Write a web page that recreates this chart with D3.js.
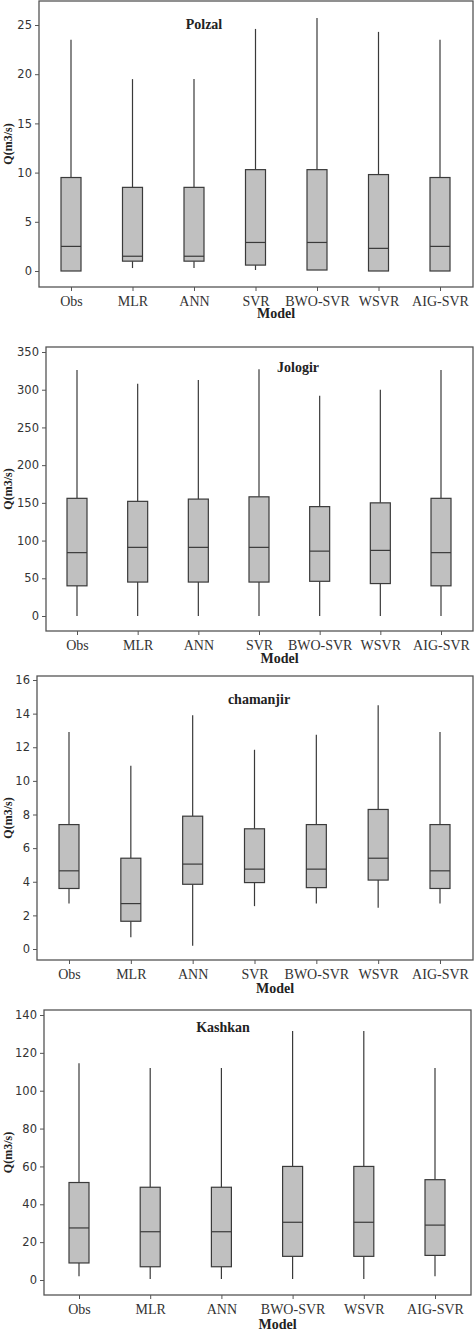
<!DOCTYPE html>
<html><head><meta charset="utf-8">
<script src="https://cdn.jsdelivr.net/npm/d3@7"></script>
<style>body{margin:0;background:#fff}</style></head>
<body><svg id="c" width="474" height="1332"></svg>
<script>
// [min, q1, median, q3, max]
const polzalCats = ["Obs","MLR","ANN","SVR","BWO-SVR","WSVR","AIG-SVR"];
const polzalVals = [[0,0,2.5,9.5,23.5],[0.3,1,1.5,8.5,19.5],[0.3,1,1.5,8.5,19.5],[0.1,0.6,2.9,10.3,24.6],[0.1,0.1,2.9,10.3,25.7],[0,0,2.3,9.8,24.3],[0,0,2.5,9.5,23.5]];
const polzalTicks = [0,5,10,15,20,25];
const jologirCats = ["Obs","MLR","ANN","SVR","BWO-SVR","WSVR","AIG-SVR"];
const jologirVals = [[0,40,84,156,326],[0,45,91,152,308],[0,45,91,155,313],[0,45,91,158,327],[0,46,86,145,292],[0,43,87,150,300],[0,40,84,156,326]];
const jologirTicks = [0,50,100,150,200,250,300,350];
const chamCats = ["Obs","MLR","ANN","SVR","BWO-SVR","WSVR","AIG-SVR"];
const chamVals = [[2.7,3.6,4.65,7.4,12.9],[0.7,1.65,2.7,5.4,10.9],[0.2,3.85,5.05,7.9,13.9],[2.55,3.95,4.75,7.15,11.85],[2.7,3.65,4.75,7.4,12.75],[2.45,4.1,5.4,8.3,14.5],[2.7,3.6,4.65,7.4,12.9]];
const chamTicks = [0,2,4,6,8,10,12,14,16];
const kashCats = ["Obs","MLR","ANN","BWO-SVR","WSVR","AIG-SVR"];
const kashVals = [[2,9,27.5,51.5,114.5],[0.5,7,25.5,49,112],[0.5,7,25.5,49,112],[0.5,12.5,30.5,60,131.5],[0.5,12.5,30.5,60,131.5],[2,13,29,53,112]];
const kashTicks = [0,20,40,60,80,100,120,140];

const panels = [
 {title:"Polzal",cats:polzalCats,vals:polzalVals,ticks:polzalTicks,frame:[39,1,473,287],y0:[0,271],y1:[25,25],x:[71,440],tx:204,ty:29,lab:318},
 {title:"Jologir",cats:jologirCats,vals:jologirVals,ticks:jologirTicks,frame:[46,347,473,631],y0:[0,616],y1:[350,352],x:[77,441],tx:298,ty:372,lab:663},
 {title:"chamanjir",cats:chamCats,vals:chamVals,ticks:chamTicks,frame:[37,676,473,960],y0:[0,949],y1:[16,680],x:[69,440],tx:259,ty:704,lab:993},
 {title:"Kashkan",cats:kashCats,vals:kashVals,ticks:kashTicks,frame:[44,1010,471,1295],y0:[0,1280],y1:[140,1015],x:[79,435],tx:223,ty:1032,lab:1329}
];
const svg = d3.select("#c");
const col="#3a3a3a";
panels.forEach(p=>{
  const [L,T,R,B]=p.frame;
  const y=d3.scaleLinear().domain([p.y0[0],p.y1[0]]).range([p.y0[1],p.y1[1]]);
  const x=d3.scalePoint().domain(p.cats).range(p.x);
  const g=svg.append("g");
  g.append("rect").attr("x",L).attr("y",T).attr("width",R-L).attr("height",B-T).attr("fill","none").attr("stroke","#555").attr("stroke-width",1.3);
  const ya=g.append("g").attr("transform",`translate(${L},0)`).call(d3.axisLeft(y).tickValues(p.ticks).tickSize(4).tickSizeOuter(0));
  ya.select(".domain").remove();
  ya.selectAll("text").attr("font-family","DejaVu Sans").attr("font-size",11.5).attr("fill","#333");
  ya.selectAll("line").attr("stroke","#555");
  const xa=g.append("g").attr("transform",`translate(0,${B})`).call(d3.axisBottom(x).tickSize(4).tickSizeOuter(0));
  xa.select(".domain").remove();
  xa.selectAll("text").attr("font-family","Liberation Serif").attr("font-size",14).attr("fill","#333").attr("dy","0.85em");
  xa.selectAll("line").attr("stroke","#555");
  const bw=20;
  p.cats.forEach((c,i)=>{
    const v=p.vals[i], cx=x(c);
    g.append("line").attr("x1",cx).attr("x2",cx).attr("y1",y(v[4])).attr("y2",y(v[3])).attr("stroke",col).attr("stroke-width",1.2);
    g.append("line").attr("x1",cx).attr("x2",cx).attr("y1",y(v[1])).attr("y2",y(v[0])).attr("stroke",col).attr("stroke-width",1.2);
    g.append("rect").attr("x",cx-bw/2).attr("y",y(v[3])).attr("width",bw).attr("height",Math.max(0.5,y(v[1])-y(v[3]))).attr("fill","#c0c0c0").attr("stroke",col).attr("stroke-width",1.2);
    g.append("line").attr("x1",cx-bw/2).attr("x2",cx+bw/2).attr("y1",y(v[2])).attr("y2",y(v[2])).attr("stroke",col).attr("stroke-width",1.2);
  });
  g.append("text").attr("x",p.tx).attr("y",p.ty).attr("text-anchor","middle").attr("font-family","Liberation Serif").attr("font-weight","bold").attr("font-size",14).attr("fill","#222").text(p.title);
  g.append("text").attr("x",(L+R)/2+20).attr("y",p.lab).attr("text-anchor","middle").attr("font-family","Liberation Serif").attr("font-weight","bold").attr("font-size",14).attr("fill","#222").text("Model");
  g.append("text").attr("transform",`translate(12,${(T+B)/2}) rotate(-90)`).attr("text-anchor","middle").attr("font-family","Liberation Serif").attr("font-weight","bold").attr("font-size",12).attr("fill","#222").text("Q(m3/s)");
});
</script></body></html>
